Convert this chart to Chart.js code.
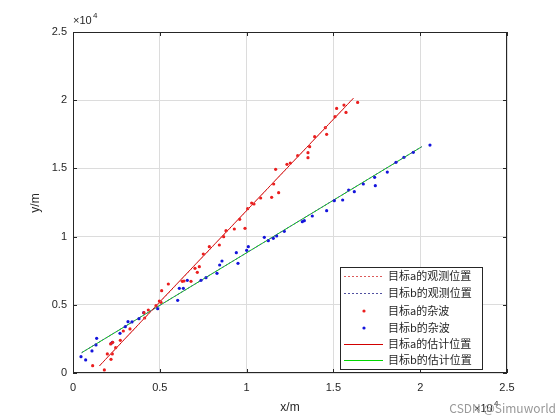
<!DOCTYPE html>
<html><head><meta charset="utf-8">
<script src="https://cdn.jsdelivr.net/npm/chart.js@4"></script>
<style>html,body{margin:0;padding:0;background:#fff}#w{width:560px;height:420px}</style>
</head><body><div id="w"><canvas id="c"></canvas></div>
<script>
const xTicks=[0,5000,10000,15000,20000,25000];
const yTicks=[0,5000,10000,15000,20000,25000];
const legendLabels=["目标a的观测位置","目标b的观测位置","目标a的杂波","目标b的杂波","目标a的估计位置","目标b的估计位置"];
const aNoiseX=[1133,1805,1977,2189,2265,2169,2285,2457,2726,2899,3283,4128,4089,4339,4781,4973,5069,5107,5491,6297,6393,6797,7027,7161,7277,7507,7853,8429,8678,8813,9293,9600,9907,10061,10291,10425,10809,11443,11558,11673,11846,12326,12518,12941,13536,13536,13632,13920,14534,14611,15091,15187,15609,15725,16397];
const aNoiseY=[540,223,1395,1005,1395,2128,2251,1860,2397,3081,3228,4034,4425,4620,4938,5280,5182,6037,6526,6721,6745,6721,7674,7381,7796,8725,9262,9384,9995,10435,10557,11265,10606,12047,12462,12389,12829,12878,13855,14930,13220,15296,15394,15931,16151,15785,16591,17324,17984,17495,18790,19400,19645,19107,19840];
const bNoiseX=[461,729,1094,1325,1363,2208,2265,2707,3014,3168,3398,3801,4070,4877,6029,6125,6355,6585,7373,7661,8294,8448,8582,9408,9504,10003,10099,11021,11251,11539,11731,12173,13209,13325,13785,14611,15053,15533,15878,16205,16723,17376,17414,18105,18605,19065,19603,20563];
const bNoiseY=[1200,956,1615,2055,2544,2177,2251,2910,3399,3765,3741,3985,4425,4718,5329,6208,6208,6795,6795,6990,7308,7918,8212,8822,8040,8993,9262,9946,9702,9873,10044,10386,11094,11168,11510,11900,12633,12682,13415,13293,13855,14343,13733,14734,15443,15809,16176,16713];
const aObsX=[1515,16150], aObsY=[513,20140];
const bObsX=[500,20090], bObsY=[1490,16590];
const aEstX=[1515,5011,16150], aEstY=[513,5231,20140];
const bEstX=[500,20090], bEstY=[1490,16590];
const zip=(xs,ys)=>xs.map((x,i)=>({x,y:ys[i]}));
const COL={aObs:'rgb(220,90,90)',bObs:'rgb(80,80,160)',aN:'rgb(235,30,30)',bN:'rgb(20,20,220)',aE:'rgb(210,0,0)',bE:'rgb(0,215,0)'};
const FONT='"Liberation Sans", Arial, sans-serif';
const deco={id:'deco',afterDraw(ch){
  const c=ch.ctx,a=ch.chartArea;
  c.save();
  c.strokeStyle='#262626';c.lineWidth=1;
  c.strokeRect(a.left+0.5,a.top+0.5,a.right-a.left-1,a.bottom-a.top-1);
  const xs=ch.scales.x,ys=ch.scales.y;
  c.beginPath();
  xTicks.forEach(v=>{const p=Math.round(xs.getPixelForValue(v))+0.5;c.moveTo(p,a.bottom);c.lineTo(p,a.bottom-4);c.moveTo(p,a.top);c.lineTo(p,a.top+4);});
  yTicks.forEach(v=>{const p=Math.round(ys.getPixelForValue(v))+0.5;c.moveTo(a.left,p);c.lineTo(a.left+4,p);c.moveTo(a.right,p);c.lineTo(a.right-4,p);});
  c.stroke();
  c.fillStyle='#262626';c.font='12px '+FONT;
  c.textAlign='center';c.textBaseline='middle';
  c.fillText('x/m',290,408);
  c.save();c.translate(36,203);c.rotate(-Math.PI/2);c.fillText('y/m',0,0);c.restore();
  c.textAlign='left';c.font='11px '+FONT;
  c.fillText('×10',73,21);c.font='8px '+FONT;c.fillText('4',93,16);
  c.font='11px '+FONT;c.fillText('×10',474,409);c.font='8px '+FONT;c.fillText('4',494,404);
  // legend
  const L=340,T=267,R=482,B=369;
  c.fillStyle='#fff';c.fillRect(L,T,R-L,B-T);
  c.strokeStyle='#262626';c.strokeRect(L+0.5,T+0.5,R-L,B-T);
  const rows=[276,293,311,328,344,360];
  const cols=[COL.aObs,COL.bObs,COL.aN,COL.bN,COL.aE,COL.bE];
  rows.forEach((y,i)=>{
    c.strokeStyle=cols[i];c.fillStyle=cols[i];
    if(i<2){c.setLineDash([2,2]);c.lineWidth=1;c.beginPath();c.moveTo(344,y+0.5);c.lineTo(383,y+0.5);c.stroke();c.setLineDash([]);}
    else if(i<4){c.beginPath();c.arc(364,y,1.6,0,Math.PI*2);c.fill();}
    else{c.lineWidth=1;c.beginPath();c.moveTo(344,y+0.5);c.lineTo(383,y+0.5);c.stroke();}
    c.fillStyle='#262626';c.font='11px "Noto Sans CJK SC", sans-serif';c.textAlign='left';c.textBaseline='middle';
    c.fillText(legendLabels[i],388,y);
  });
  c.fillStyle='#999';c.font='12px "Noto Sans CJK SC", sans-serif';c.textAlign='right';
  c.fillText('CSDN @Simuworld',556,408);
  c.restore();
}};
new Chart(document.getElementById('c'),{
  type:'scatter',
  data:{datasets:[
    {data:zip(aObsX,aObsY),showLine:true,borderColor:COL.aObs,borderDash:[2,2],borderWidth:1,pointRadius:0},
    {data:zip(bObsX,bObsY),showLine:true,borderColor:COL.bObs,borderDash:[2,2],borderWidth:1,pointRadius:0},
    {data:zip(aNoiseX,aNoiseY),backgroundColor:COL.aN,borderWidth:0,pointRadius:1.6},
    {data:zip(bNoiseX,bNoiseY),backgroundColor:COL.bN,borderWidth:0,pointRadius:1.6},
    {data:zip(aEstX,aEstY),showLine:true,borderColor:COL.aE,borderWidth:1,pointRadius:0},
    {data:zip(bEstX,bEstY),showLine:true,borderColor:COL.bE,borderWidth:1,pointRadius:0}
  ]},
  options:{responsive:true,maintainAspectRatio:false,animation:false,
    layout:{padding:{top:32,right:53,left:0,bottom:0}},
    plugins:{legend:{display:false},tooltip:{enabled:false}},
    scales:{
      x:{type:'linear',min:0,max:25000,afterFit:s=>{s.height=47;},
        afterBuildTicks:s=>{s.ticks=xTicks.map(v=>({value:v}));},
        grid:{color:'#dcdcdc',drawTicks:false},border:{display:false},
        ticks:{padding:8,color:'#262626',font:{size:11,family:FONT},callback:v=>String(v/10000)}},
      y:{type:'linear',min:0,max:25000,afterFit:s=>{s.width=73;},
        afterBuildTicks:s=>{s.ticks=yTicks.map(v=>({value:v}));},
        grid:{color:'#dcdcdc',drawTicks:false},border:{display:false},
        ticks:{padding:6,color:'#262626',font:{size:11,family:FONT},callback:v=>String(v/10000)}}
    }},
  plugins:[deco]
});
</script></body></html>
